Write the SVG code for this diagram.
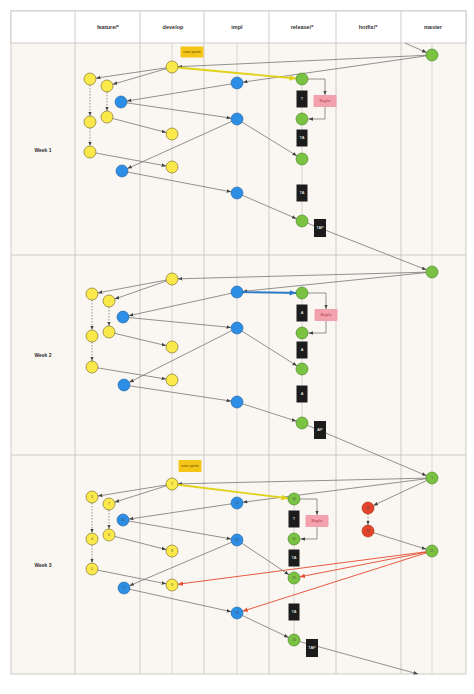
<svg xmlns="http://www.w3.org/2000/svg" width="474" height="694" viewBox="0 0 474 694">
<style>
.hdr{font-family:"Liberation Sans",Arial,sans-serif;font-size:5.5px;font-weight:bold;fill:#333;text-anchor:middle}
.wk{font-family:"Liberation Sans",Arial,sans-serif;font-size:5px;font-weight:bold;fill:#333;text-anchor:middle}
.sep{stroke:#c4c0bb;stroke-width:0.8}
.lane{stroke:#c9c5c0;stroke-width:0.6}
.c{stroke:#666;stroke-width:0.7;fill:none}
.d{stroke:#666;stroke-width:0.7;fill:none;stroke-dasharray:1.5,1.5}
.y circle{fill:#fbe84a;stroke:#6d6420;stroke-width:0.6}
.b circle{fill:#2d8ee6;stroke:#1d5f9e;stroke-width:0.6}
.g circle{fill:#7cc242;stroke:#3f7f22;stroke-width:0.6}
.r circle{fill:#e4432a;stroke:#9e2c18;stroke-width:0.6}
.tag rect{fill:#1c1c1c}
.tag text{font-family:"Liberation Sans",Arial,sans-serif;font-size:4px;fill:#fff;text-anchor:middle}
.bug rect{fill:#f3a2ad}
.bug text{font-family:"Liberation Sans",Arial,sans-serif;font-size:4px;fill:#b03a4a;text-anchor:middle}
.ns rect{fill:#f5c518}
.ns text{font-family:"Liberation Sans",Arial,sans-serif;font-size:3.8px;fill:#5a4a00;text-anchor:middle}
.n{font-family:"Liberation Sans",Arial,sans-serif;font-size:3px;fill:#444;text-anchor:middle}
</style>
<defs>
<marker id="a" markerUnits="userSpaceOnUse" markerWidth="12" markerHeight="4" refX="10.5" refY="1.8" orient="auto"><path d="M0,0 L4.5,1.8 L0,3.6 z" fill="#444"/></marker>
<marker id="ap" markerUnits="userSpaceOnUse" markerWidth="5" markerHeight="4" refX="4.5" refY="1.8" orient="auto"><path d="M0,0 L4.5,1.8 L0,3.6 z" fill="#444"/></marker>
<marker id="ay" markerUnits="userSpaceOnUse" markerWidth="14" markerHeight="6" refX="12.5" refY="2.8" orient="auto"><path d="M0,0 L6.5,2.8 L0,5.6 z" fill="#e0d21a"/></marker>
<marker id="ab" markerUnits="userSpaceOnUse" markerWidth="14" markerHeight="6" refX="12.5" refY="2.8" orient="auto"><path d="M0,0 L6.5,2.8 L0,5.6 z" fill="#2a78c8"/></marker>
<marker id="ar" markerUnits="userSpaceOnUse" markerWidth="12" markerHeight="5" refX="11" refY="2.2" orient="auto"><path d="M0,0 L5,2.2 L0,4.4 z" fill="#e5492f"/></marker>
</defs>

<g id="table">
<rect x="11" y="11" width="455" height="663" fill="#faf6f1" stroke="#c4c0bb" stroke-width="0.8"/>
<rect x="11" y="11" width="455" height="32" fill="#ffffff" stroke="#c4c0bb" stroke-width="0.8"/>
<line class="sep" x1="75" y1="11" x2="75" y2="674"/>
<line class="sep" x1="140" y1="11" x2="140" y2="674"/>
<line class="sep" x1="204" y1="11" x2="204" y2="674"/>
<line class="sep" x1="269" y1="11" x2="269" y2="674"/>
<line class="sep" x1="336" y1="11" x2="336" y2="674"/>
<line class="sep" x1="401" y1="11" x2="401" y2="674"/>
<line class="sep" x1="11" y1="255" x2="466" y2="255"/>
<line class="sep" x1="11" y1="455" x2="466" y2="455"/>
<line class="lane" x1="172" y1="43" x2="172" y2="674"/>
<line class="lane" x1="237" y1="43" x2="237" y2="674"/>
<line class="lane" x1="432" y1="43" x2="432" y2="674"/>
<text class="hdr" x="108" y="29">feature/*</text>
<text class="hdr" x="173" y="29">develop</text>
<text class="hdr" x="237" y="29">impl</text>
<text class="hdr" x="302" y="29">release/*</text>
<text class="hdr" x="368" y="29">hotfix/*</text>
<text class="hdr" x="433" y="29">master</text>
<text class="wk" x="43" y="152">Week 1</text>
<text class="wk" x="43" y="357">Week 2</text>
<text class="wk" x="43" y="567">Week 3</text>
</g>

<g id="connectors">
<line class="lane" x1="302" y1="79" x2="302" y2="221" stroke="#aaa"/>
<line class="lane" x1="302" y1="293" x2="302" y2="423" stroke="#aaa"/>
<line class="lane" x1="294" y1="499" x2="294" y2="640" stroke="#aaa"/>
<!-- week 1 -->
<line class="c" x1="405" y1="43" x2="432" y2="55" marker-end="url(#a)"/>
<line class="c" x1="432" y1="55" x2="172" y2="67" marker-end="url(#a)"/>
<line class="c" x1="432" y1="55" x2="237" y2="83" marker-end="url(#a)"/>
<line class="c" x1="172" y1="67" x2="90" y2="79" marker-end="url(#a)"/>
<line class="c" x1="172" y1="67" x2="107" y2="86" marker-end="url(#a)"/>
<line x1="172" y1="67" x2="302" y2="79" stroke="#e0d21a" stroke-width="1.8" marker-end="url(#ay)"/>
<line class="d" x1="90" y1="79" x2="90" y2="122" marker-end="url(#a)"/>
<line class="d" x1="90" y1="122" x2="90" y2="152" marker-end="url(#a)"/>
<line class="d" x1="107" y1="86" x2="107" y2="117" marker-end="url(#a)"/>
<line class="c" x1="237" y1="83" x2="121" y2="102" marker-end="url(#a)"/>
<line class="c" x1="121" y1="102" x2="237" y2="119" marker-end="url(#a)"/>
<line class="c" x1="237" y1="119" x2="122" y2="171" marker-end="url(#a)"/>
<line class="c" x1="237" y1="119" x2="302" y2="159" marker-end="url(#a)"/>
<line class="c" x1="122" y1="171" x2="237" y2="193" marker-end="url(#a)"/>
<line class="c" x1="237" y1="193" x2="302" y2="221" marker-end="url(#a)"/>
<line class="c" x1="107" y1="117" x2="172" y2="134" marker-end="url(#a)"/>
<line class="c" x1="90" y1="152" x2="172" y2="167" marker-end="url(#a)"/>
<path class="c" d="M308,79 H325 V95" marker-end="url(#ap)"/>
<path class="c" d="M325,107 V119 H308.5" marker-end="url(#ap)"/>
<line class="c" x1="302" y1="221" x2="432" y2="272" marker-end="url(#a)"/>
<!-- week 2 -->
<line class="c" x1="432" y1="272" x2="172" y2="279" marker-end="url(#a)"/>
<line class="c" x1="432" y1="272" x2="237" y2="292" marker-end="url(#a)"/>
<line class="c" x1="172" y1="279" x2="92" y2="294" marker-end="url(#a)"/>
<line class="c" x1="172" y1="279" x2="109" y2="301" marker-end="url(#a)"/>
<line x1="237" y1="292" x2="302" y2="293" stroke="#2a78c8" stroke-width="1.8" marker-end="url(#ab)"/>
<line class="d" x1="92" y1="294" x2="92" y2="336" marker-end="url(#a)"/>
<line class="d" x1="92" y1="336" x2="92" y2="367" marker-end="url(#a)"/>
<line class="d" x1="109" y1="301" x2="109" y2="332" marker-end="url(#a)"/>
<line class="c" x1="237" y1="292" x2="123" y2="317" marker-end="url(#a)"/>
<line class="c" x1="123" y1="317" x2="237" y2="328" marker-end="url(#a)"/>
<line class="c" x1="237" y1="328" x2="124" y2="385" marker-end="url(#a)"/>
<line class="c" x1="237" y1="328" x2="302" y2="369" marker-end="url(#a)"/>
<line class="c" x1="124" y1="385" x2="237" y2="402" marker-end="url(#a)"/>
<line class="c" x1="237" y1="402" x2="302" y2="423" marker-end="url(#a)"/>
<line class="c" x1="109" y1="332" x2="172" y2="347" marker-end="url(#a)"/>
<line class="c" x1="92" y1="367" x2="172" y2="380" marker-end="url(#a)"/>
<path class="c" d="M308,293 H326 V309" marker-end="url(#ap)"/>
<path class="c" d="M326,321 V333 H308.5" marker-end="url(#ap)"/>
<line class="c" x1="302" y1="423" x2="432" y2="478" marker-end="url(#a)"/>
<!-- week 3 -->
<line class="c" x1="432" y1="478" x2="172" y2="484" marker-end="url(#a)"/>
<line class="c" x1="432" y1="478" x2="237" y2="503" marker-end="url(#a)"/>
<line class="c" x1="432" y1="478" x2="368" y2="508" marker-end="url(#a)"/>
<line class="d" x1="368" y1="508" x2="368" y2="531" marker-end="url(#a)"/>
<line class="c" x1="368" y1="531" x2="432" y2="551" marker-end="url(#a)"/>
<line x1="432" y1="551" x2="294" y2="578" stroke="#e5492f" stroke-width="0.9" marker-end="url(#ar)"/>
<line x1="432" y1="551" x2="172" y2="585" stroke="#e5492f" stroke-width="0.9" marker-end="url(#ar)"/>
<line x1="432" y1="551" x2="237" y2="613" stroke="#e5492f" stroke-width="0.9" marker-end="url(#ar)"/>
<line class="c" x1="172" y1="484" x2="92" y2="497" marker-end="url(#a)"/>
<line class="c" x1="172" y1="484" x2="109" y2="504" marker-end="url(#a)"/>
<line x1="172" y1="484" x2="294" y2="499" stroke="#e0d21a" stroke-width="1.8" marker-end="url(#ay)"/>
<line class="d" x1="92" y1="497" x2="92" y2="539" marker-end="url(#a)"/>
<line class="d" x1="92" y1="539" x2="92" y2="569" marker-end="url(#a)"/>
<line class="d" x1="109" y1="504" x2="109" y2="535" marker-end="url(#a)"/>
<line class="c" x1="237" y1="503" x2="123" y2="520" marker-end="url(#a)"/>
<line class="c" x1="123" y1="520" x2="237" y2="540" marker-end="url(#a)"/>
<line class="c" x1="237" y1="540" x2="124" y2="588" marker-end="url(#a)"/>
<line class="c" x1="237" y1="540" x2="294" y2="578" marker-end="url(#a)"/>
<line class="c" x1="124" y1="588" x2="237" y2="613" marker-end="url(#a)"/>
<line class="c" x1="237" y1="613" x2="294" y2="640" marker-end="url(#a)"/>
<line class="c" x1="109" y1="535" x2="172" y2="551" marker-end="url(#a)"/>
<line class="c" x1="92" y1="569" x2="172" y2="585" marker-end="url(#a)"/>
<path class="c" d="M300,499 H317 V515" marker-end="url(#ap)"/>
<path class="c" d="M317,527 V539 H300.5" marker-end="url(#ap)"/>
<line class="c" x1="294" y1="640" x2="418" y2="674" marker-end="url(#ap)"/>
</g>

<g id="ns1" class="ns"><rect x="180.5" y="46.5" width="23" height="11" rx="1"/><text x="192" y="53.3">new sprint</text></g>
<g id="ns3" class="ns"><rect x="178.5" y="460" width="23" height="12" rx="1"/><text x="190" y="467.3">new sprint</text></g>
<g id="t1" class="tag"><rect x="296.5" y="90.5" width="11" height="17"/><text x="302" y="100.4">T</text></g>
<g id="bug1" class="bug"><rect x="313.5" y="95" width="23" height="12" rx="1"/><text x="325" y="102.4">Bugfix</text></g>
<g id="ta1" class="tag"><rect x="296.5" y="129.5" width="11" height="17"/><text x="302" y="139.4">TA</text></g>
<g id="ta2" class="tag"><rect x="296.5" y="184.5" width="11" height="17"/><text x="302" y="194.4">TA</text></g>
<g id="tap1" class="tag"><rect x="314" y="219" width="12" height="18"/><text x="320" y="229.4">TAP</text></g>
<g id="a1" class="tag"><rect x="296.5" y="304.5" width="11" height="17"/><text x="302" y="314.4">A</text></g>
<g id="bug2" class="bug"><rect x="314.5" y="309" width="23" height="12" rx="1"/><text x="326" y="316.4">Bugfix</text></g>
<g id="a2" class="tag"><rect x="296.5" y="341.5" width="11" height="17"/><text x="302" y="351.4">A</text></g>
<g id="a3" class="tag"><rect x="296.5" y="385.5" width="11" height="17"/><text x="302" y="395.4">A</text></g>
<g id="ap1" class="tag"><rect x="314" y="421" width="12" height="18"/><text x="320" y="431.4">AP</text></g>
<g id="t3" class="tag"><rect x="288.5" y="510.5" width="11" height="17"/><text x="294" y="520.4">T</text></g>
<g id="bug3" class="bug"><rect x="305.5" y="515" width="23" height="12" rx="1"/><text x="317" y="522.4">Bugfix</text></g>
<g id="ta3" class="tag"><rect x="288.5" y="549.5" width="11" height="17"/><text x="294" y="559.4">TA</text></g>
<g id="ta4" class="tag"><rect x="288.5" y="603.5" width="11" height="17"/><text x="294" y="613.4">TA</text></g>
<g id="tap3" class="tag"><rect x="306" y="639" width="12" height="18"/><text x="312" y="649.4">TAP</text></g>

<g id="m1" class="g"><circle cx="432" cy="55" r="6"/></g>
<g id="d1a" class="y"><circle cx="172" cy="67" r="6"/></g>
<g id="d1b" class="y"><circle cx="172" cy="134" r="6"/></g>
<g id="d1c" class="y"><circle cx="172" cy="167" r="6"/></g>
<g id="f1a" class="y"><circle cx="90" cy="79" r="6"/></g>
<g id="f1b" class="y"><circle cx="90" cy="122" r="6"/></g>
<g id="f1c" class="y"><circle cx="90" cy="152" r="6"/></g>
<g id="g1a" class="y"><circle cx="107" cy="86" r="6"/></g>
<g id="g1b" class="y"><circle cx="107" cy="117" r="6"/></g>
<g id="fb1a" class="b"><circle cx="121" cy="102" r="6"/></g>
<g id="fb1b" class="b"><circle cx="122" cy="171" r="6"/></g>
<g id="i1a" class="b"><circle cx="237" cy="83" r="6"/></g>
<g id="i1b" class="b"><circle cx="237" cy="119" r="6"/></g>
<g id="i1c" class="b"><circle cx="237" cy="193" r="6"/></g>
<g id="r1a" class="g"><circle cx="302" cy="79" r="6"/></g>
<g id="r1b" class="g"><circle cx="302" cy="119" r="6"/></g>
<g id="r1c" class="g"><circle cx="302" cy="159" r="6"/></g>
<g id="r1d" class="g"><circle cx="302" cy="221" r="6"/></g>
<g id="m2" class="g"><circle cx="432" cy="272" r="6"/></g>
<g id="d2a" class="y"><circle cx="172" cy="279" r="6"/></g>
<g id="d2b" class="y"><circle cx="172" cy="347" r="6"/></g>
<g id="d2c" class="y"><circle cx="172" cy="380" r="6"/></g>
<g id="f2a" class="y"><circle cx="92" cy="294" r="6"/></g>
<g id="f2b" class="y"><circle cx="92" cy="336" r="6"/></g>
<g id="f2c" class="y"><circle cx="92" cy="367" r="6"/></g>
<g id="g2a" class="y"><circle cx="109" cy="301" r="6"/></g>
<g id="g2b" class="y"><circle cx="109" cy="332" r="6"/></g>
<g id="fb2a" class="b"><circle cx="123" cy="317" r="6"/></g>
<g id="fb2b" class="b"><circle cx="124" cy="385" r="6"/></g>
<g id="i2a" class="b"><circle cx="237" cy="292" r="6"/></g>
<g id="i2b" class="b"><circle cx="237" cy="328" r="6"/></g>
<g id="i2c" class="b"><circle cx="237" cy="402" r="6"/></g>
<g id="r2a" class="g"><circle cx="302" cy="293" r="6"/></g>
<g id="r2b" class="g"><circle cx="302" cy="333" r="6"/></g>
<g id="r2c" class="g"><circle cx="302" cy="369" r="6"/></g>
<g id="r2d" class="g"><circle cx="302" cy="423" r="6"/></g>
<g id="m3" class="g"><circle cx="432" cy="478" r="6"/><text class="n" x="432" y="479">1</text></g>
<g id="d3a" class="y"><circle cx="172" cy="484" r="6"/><text class="n" x="172" y="485">2</text></g>
<g id="f3a" class="y"><circle cx="92" cy="497" r="6"/><text class="n" x="92" y="498">3</text></g>
<g id="f3b" class="y"><circle cx="92" cy="539" r="6"/><text class="n" x="92" y="540">4</text></g>
<g id="f3c" class="y"><circle cx="92" cy="569" r="6"/><text class="n" x="92" y="570">5</text></g>
<g id="g3a" class="y"><circle cx="109" cy="504" r="6"/><text class="n" x="109" y="505">7</text></g>
<g id="g3b" class="y"><circle cx="109" cy="535" r="6"/><text class="n" x="109" y="536">6</text></g>
<g id="d3b" class="y"><circle cx="172" cy="551" r="6"/><text class="n" x="172" y="552">8</text></g>
<g id="d3c" class="y"><circle cx="172" cy="585" r="6"/><text class="n" x="172" y="586">9</text></g>
<g id="fb3a" class="b"><circle cx="123" cy="520" r="6"/><text class="n" x="123" y="521">16</text></g>
<g id="fb3b" class="b"><circle cx="124" cy="588" r="6"/><text class="n" x="124" y="589">17</text></g>
<g id="i3a" class="b"><circle cx="237" cy="503" r="6"/><text class="n" x="237" y="504">14</text></g>
<g id="i3b" class="b"><circle cx="237" cy="540" r="6"/><text class="n" x="237" y="541">15</text></g>
<g id="i3c" class="b"><circle cx="237" cy="613" r="6"/><text class="n" x="237" y="614">18</text></g>
<g id="r3a" class="g"><circle cx="294" cy="499" r="6"/><text class="n" x="294" y="500">10</text></g>
<g id="r3b" class="g"><circle cx="294" cy="539" r="6"/><text class="n" x="294" y="540">11</text></g>
<g id="r3c" class="g"><circle cx="294" cy="578" r="6"/><text class="n" x="294" y="579">12</text></g>
<g id="r3d" class="g"><circle cx="294" cy="640" r="6"/><text class="n" x="294" y="641">13</text></g>
<g id="h1" class="r"><circle cx="368" cy="508" r="6"/><text class="n" x="368" y="509">19</text></g>
<g id="h2" class="r"><circle cx="368" cy="531" r="6"/><text class="n" x="368" y="532">20</text></g>
<g id="m4" class="g"><circle cx="432" cy="551" r="6"/><text class="n" x="432" y="552">21</text></g>
</svg>
